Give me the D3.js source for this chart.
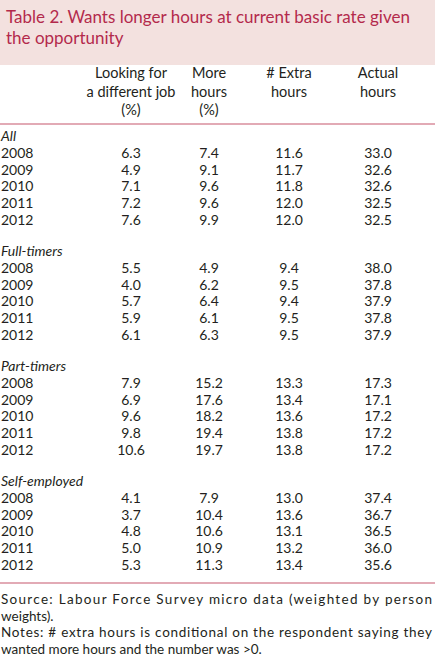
<!DOCTYPE html><html><head><meta charset="utf-8">
<script src="https://cdn.jsdelivr.net/npm/d3@7"></script>
<style>body{margin:0;background:#fff}</style></head><body>
<script>
const title = ["Table 2. Wants longer hours at current basic rate given","the opportunity"];
const columns = [["Looking for","a different job","(%)"],["More","hours","(%)"],["# Extra","hours"],["Actual","hours"]];
const groups = ["All","Full-timers","Part-timers","Self-employed"];
const years = ["2008","2009","2010","2011","2012"];
const lookingJob = [[6.3,4.9,7.1,7.2,7.6],[5.5,4.0,5.7,5.9,6.1],[7.9,6.9,9.6,9.8,10.6],[4.1,3.7,4.8,5.0,5.3]];
const moreHours = [[7.4,9.1,9.6,9.6,9.9],[4.9,6.2,6.4,6.1,6.3],[15.2,17.6,18.2,19.4,19.7],[7.9,10.4,10.6,10.9,11.3]];
const extraHours = [[11.6,11.7,11.8,12.0,12.0],[9.4,9.5,9.4,9.5,9.5],[13.3,13.4,13.6,13.8,13.8],[13.0,13.6,13.1,13.2,13.4]];
const actualHours = [[33.0,32.6,32.6,32.5,32.5],[38.0,37.8,37.9,37.8,37.9],[17.3,17.1,17.2,17.2,17.2],[37.4,36.7,36.5,36.0,35.6]];
const notes = ["Source: Labour Force Survey micro data (weighted by person","weights).","Notes: # extra hours is conditional on the respondent saying they","wanted more hours and the number was >0."];

const W=435,H=656, font="Lato, 'Open Sans', sans-serif", red="#b32a4c", ink="#231f20";
const svg=d3.select("body").append("svg").attr("width",W).attr("height",H).style("font-family",font);
svg.append("rect").attr("x",0).attr("y",0).attr("width",W).attr("height",65).attr("fill","#f3e1df");
svg.selectAll(".t").data(title).join("text").attr("x",6).attr("y",(d,i)=>23+i*21)
 .attr("fill",red).attr("font-size",17).text(d=>d);
const xs=d3.scaleOrdinal().domain([0,1,2,3]).range([131,209,289,378]);
columns.forEach((c,ci)=>{
 svg.selectAll(null).data(c).join("text").attr("x",xs(ci)).attr("y",(d,i)=>78+i*18.5)
  .attr("text-anchor","middle").attr("font-size",14.5).attr("fill",ink).text(d=>d);
});
svg.append("line").attr("x1",0).attr("x2",W).attr("y1",124).attr("y2",124).attr("stroke","#c5566d").attr("stroke-width",1.2);
const ys=d3.scaleLinear().domain([0,1]).range([141,256]);
const vals=[lookingJob,moreHours,extraHours,actualHours];
groups.forEach((g,gi)=>{
 const y0=ys(gi);
 svg.append("text").attr("x",1).attr("y",y0).attr("font-style","italic").attr("font-size",14).attr("fill",ink).text(g);
 years.forEach((yr,ri)=>{
  const y=y0+16.8*(ri+1);
  svg.append("text").attr("x",1).attr("y",y).attr("font-size",14).attr("fill",ink).text(yr);
  vals.forEach((v,ci)=>svg.append("text").attr("x",xs(ci)).attr("y",y).attr("text-anchor","middle")
   .attr("font-size",14).attr("fill",ink).text(v[gi][ri].toFixed(1)));
 });
});
svg.append("line").attr("x1",0).attr("x2",W).attr("y1",583).attr("y2",583).attr("stroke","#c5566d").attr("stroke-width",1.2);
svg.selectAll(".n").data(notes).join("text").attr("x",1).attr("y",(d,i)=>604+i*16.5)
 .attr("font-size",13.5).attr("fill",ink).attr("textLength",(d,i)=>i%2==0?431:null).text(d=>d);
</script></body></html>
